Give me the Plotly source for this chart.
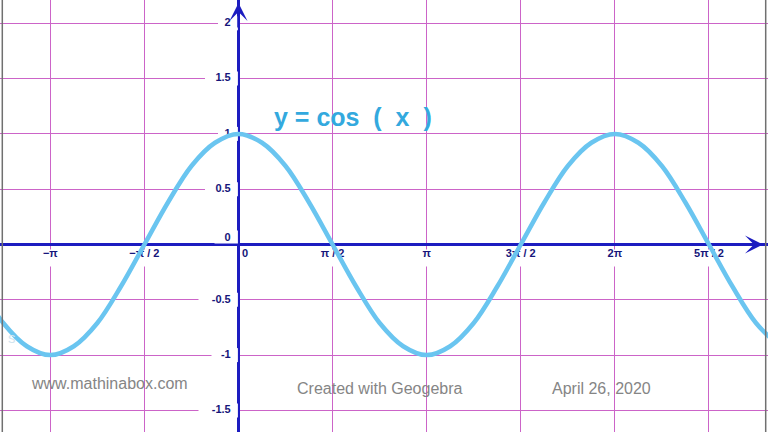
import math
import plotly.graph_objects as go

# curve samples, x in eighths of pi, y
curve_x_eighths = [-11, -10, -9, -8, -7, -6, -5, -4, -3, -2, -1, 0, 1, 2, 3, 4, 5,
                   6, 7, 8, 9, 10, 11, 12, 13, 14, 15, 16, 17, 18, 19, 20, 21, 22, 23]
curve_y = [-0.38, -0.71, -0.92, -1.0, -0.92, -0.71, -0.38, 0.0, 0.38, 0.71, 0.92, 1.0,
           0.92, 0.71, 0.38, 0.0, -0.38, -0.71, -0.92, -1.0, -0.92, -0.71, -0.38, 0.0,
           0.38, 0.71, 0.92, 1.0, 0.92, 0.71, 0.38, 0.0, -0.38, -0.71, -0.92]

# ticks
x_tick_halfpi = [-2, -1, 1, 2, 3, 4, 5]
x_tick_labels = ["−π", "−π / 2", "π / 2", "π", "3π / 2", "2π", "5π / 2"]
y_tick_vals = [2, 1.5, 1, 0.5, -0.5, -1, -1.5]
y_tick_labels = ["2", "1.5", "1", "0.5", "-0.5", "-1", "-1.5"]

curve_x = [k * math.pi / 8 for k in curve_x_eighths]
x_ticks = [k * math.pi / 2 for k in x_tick_halfpi]

AXIS = "#1c1cc0"
LABEL = "#15157a"
GRID = "#cc64c8"
CURVE = "#6ac5f0"
FONT = "Arial, Liberation Sans"
PX_X = 59.9    # px per unit, x
PX_Y = 110.6   # px per unit, y

fig = go.Figure()

# tick labels (under the curve)
fig.add_trace(go.Scatter(
    x=x_ticks, y=[-0.035] * len(x_ticks), mode="text", text=x_tick_labels,
    textposition="bottom center",
    textfont=dict(family=FONT, size=11, color=LABEL, weight="bold"),
    hoverinfo="skip", showlegend=False))
fig.add_trace(go.Scatter(
    x=[-0.13] * len(y_tick_vals), y=y_tick_vals, mode="text", text=y_tick_labels,
    textposition="middle left",
    textfont=dict(family=FONT, size=11, color=LABEL, weight="bold"),
    hoverinfo="skip", showlegend=False))
fig.add_trace(go.Scatter(
    x=[-0.13, 0.06], y=[0.06, -0.035], mode="text", text=["0", "0"],
    textposition=["middle left", "bottom right"],
    textfont=dict(family=FONT, size=11, color=LABEL, weight="bold"),
    hoverinfo="skip", showlegend=False))

fig.add_trace(go.Scatter(
    x=curve_x, y=curve_y, mode="lines",
    line=dict(color=CURVE, width=4.5, shape="spline", smoothing=1),
    hoverinfo="skip", showlegend=False))

# white boxes behind labels, cutting the grid
shapes = []
for xv, lab in zip(x_ticks, x_tick_labels):
    hw = (len(lab) * 3.3 + 4) / PX_X
    shapes.append(dict(type="rect", xref="x", yref="y", layer="between",
                       x0=xv - hw, x1=xv + hw, y0=-5 / PX_Y, y1=-22 / PX_Y,
                       fillcolor="white", line_width=0))
for yv, lab in zip(y_tick_vals, y_tick_labels):
    w = (len(lab) * 6.5 + 14) / PX_X
    shapes.append(dict(type="rect", xref="x", yref="y", layer="between",
                       x0=-w, x1=-0.01, y0=yv - 7 / PX_Y, y1=yv + 7 / PX_Y,
                       fillcolor="white", line_width=0))
shapes.append(dict(type="rect", xref="x", yref="y", layer="between",
                   x0=-24 / PX_X, x1=-0.01, y0=1 / PX_Y, y1=14 / PX_Y,
                   fillcolor="white", line_width=0))
# side borders
for xp in [0.003, 0.997]:
    shapes.append(dict(type="line", xref="paper", yref="paper", x0=xp, x1=xp, y0=0, y1=1,
                       line=dict(color="#707070", width=1.5)))


def note(x, y, text, size, color):
    return dict(x=x, y=y, xref="paper", yref="paper", text=text, showarrow=False,
                xanchor="center", yanchor="middle",
                font=dict(family=FONT, size=size, color=color))


annotations = [
    dict(x=(763 - 238.5) / PX_X, y=0, ax=-26, ay=0, xref="x", yref="y", text="",
         showarrow=True, arrowhead=3, arrowsize=1.2, arrowwidth=2.5, arrowcolor=AXIS),
    dict(x=0, y=(244.5 - 3) / PX_Y, ax=0, ay=26, xref="x", yref="y", text="",
         showarrow=True, arrowhead=3, arrowsize=1.2, arrowwidth=2.5, arrowcolor=AXIS),
    note(0.459, 0.729, "<b>y = cos&nbsp; (&nbsp; x&nbsp; )</b>", 25, "#33a9de"),
    note(0.143, 0.113, "www.mathinabox.com", 16, "#858585"),
    note(0.495, 0.1, "Created with Geogebra", 16, "#858585"),
    note(0.783, 0.1, "April 26, 2020", 16, "#858585"),
    note(0.015, 0.218, "s", 15, "#d2e4ee"),
]

fig.update_layout(
    width=768, height=432,
    margin=dict(l=0, r=0, t=0, b=0),
    paper_bgcolor="white", plot_bgcolor="white",
    shapes=shapes, annotations=annotations,
    xaxis=dict(range=[-238.5 / PX_X, (768 - 238.5) / PX_X], tickvals=[0] + x_ticks,
               showticklabels=False, ticks="", showgrid=True, gridcolor=GRID, gridwidth=1,
               zeroline=True, zerolinecolor=AXIS, zerolinewidth=2.5, fixedrange=True),
    yaxis=dict(range=[-(432 - 244.5) / PX_Y, 244.5 / PX_Y], tickvals=y_tick_vals + [0],
               showticklabels=False, ticks="", showgrid=True, gridcolor=GRID, gridwidth=1,
               zeroline=True, zerolinecolor=AXIS, zerolinewidth=2.5, fixedrange=True),
)

fig.write_html("out.html", config={"displayModeBar": False},
               post_script="document.body.style.margin='0';")
